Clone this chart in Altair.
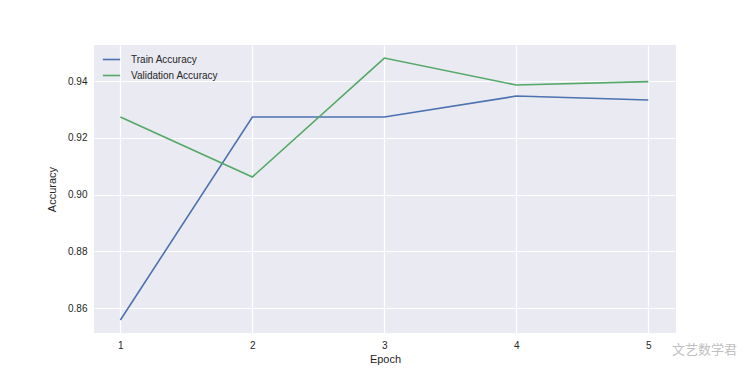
import altair as alt
import pandas as pd

epochs = [1, 2, 3, 4, 5]
train_acc = [0.8558, 0.9273, 0.9273, 0.9347, 0.9333]
val_acc = [0.9273, 0.9062, 0.9481, 0.9386, 0.9398]
series_names = ["Train Accuracy", "Validation Accuracy"]
series_colors = ["#4c72b0", "#55a868"]

rows = []
for e, t, v in zip(epochs, train_acc, val_acc):
    rows.append({"Epoch": e, "Accuracy": t, "Series": series_names[0]})
    rows.append({"Epoch": e, "Accuracy": v, "Series": series_names[1]})
df = pd.DataFrame(rows)

FONT = "Liberation Sans"

lines = alt.Chart(df).mark_line(strokeWidth=1.6).encode(
    x=alt.X("Epoch:Q", scale=alt.Scale(domain=[0.8, 5.21], nice=False, zero=False),
            axis=alt.Axis(values=epochs, format="d", title="Epoch")),
    y=alt.Y("Accuracy:Q", scale=alt.Scale(domain=[0.8512, 0.9527], nice=False, zero=False),
            axis=alt.Axis(values=[0.86, 0.88, 0.90, 0.92, 0.94], format=".2f", title="Accuracy")),
    color=alt.Color("Series:N", scale=alt.Scale(domain=series_names, range=series_colors),
                    legend=alt.Legend(title=None, orient="none", legendX=8, legendY=5,
                                      symbolType="stroke", symbolStrokeWidth=1.6, symbolSize=300,
                                      labelFont=FONT, labelFontSize=10, labelColor="#262626",
                                      rowPadding=1, labelOffset=10)),
)

wm = alt.Chart(pd.DataFrame({"t": ["文艺数学君"]})).mark_text(
    font="Noto Sans CJK SC", fontSize=13, color="#c0c0c0", align="left", baseline="middle"
).encode(text="t:N", x=alt.value(578), y=alt.value(305))

chart = alt.layer(lines, wm).properties(
    width=582, height=288,
    padding={"left": 94, "top": 45, "right": 74, "bottom": 42},
    autosize=alt.AutoSizeParams(type="none"),
    background="white",
).configure_view(fill="#eaeaf2", stroke=None).configure_axis(
    grid=True, gridColor="white", gridWidth=1.2, domain=False, ticks=False,
    labelFont=FONT, labelFontSize=10, labelColor="#262626", labelPadding=7,
    titleFont=FONT, titleFontSize=11, titleFontWeight="normal", titleColor="#262626",
).configure_axisY(titlePadding=10).configure_axisX(titlePadding=3)

chart.save("out.html", embed_options={"renderer": "svg", "actions": False})
